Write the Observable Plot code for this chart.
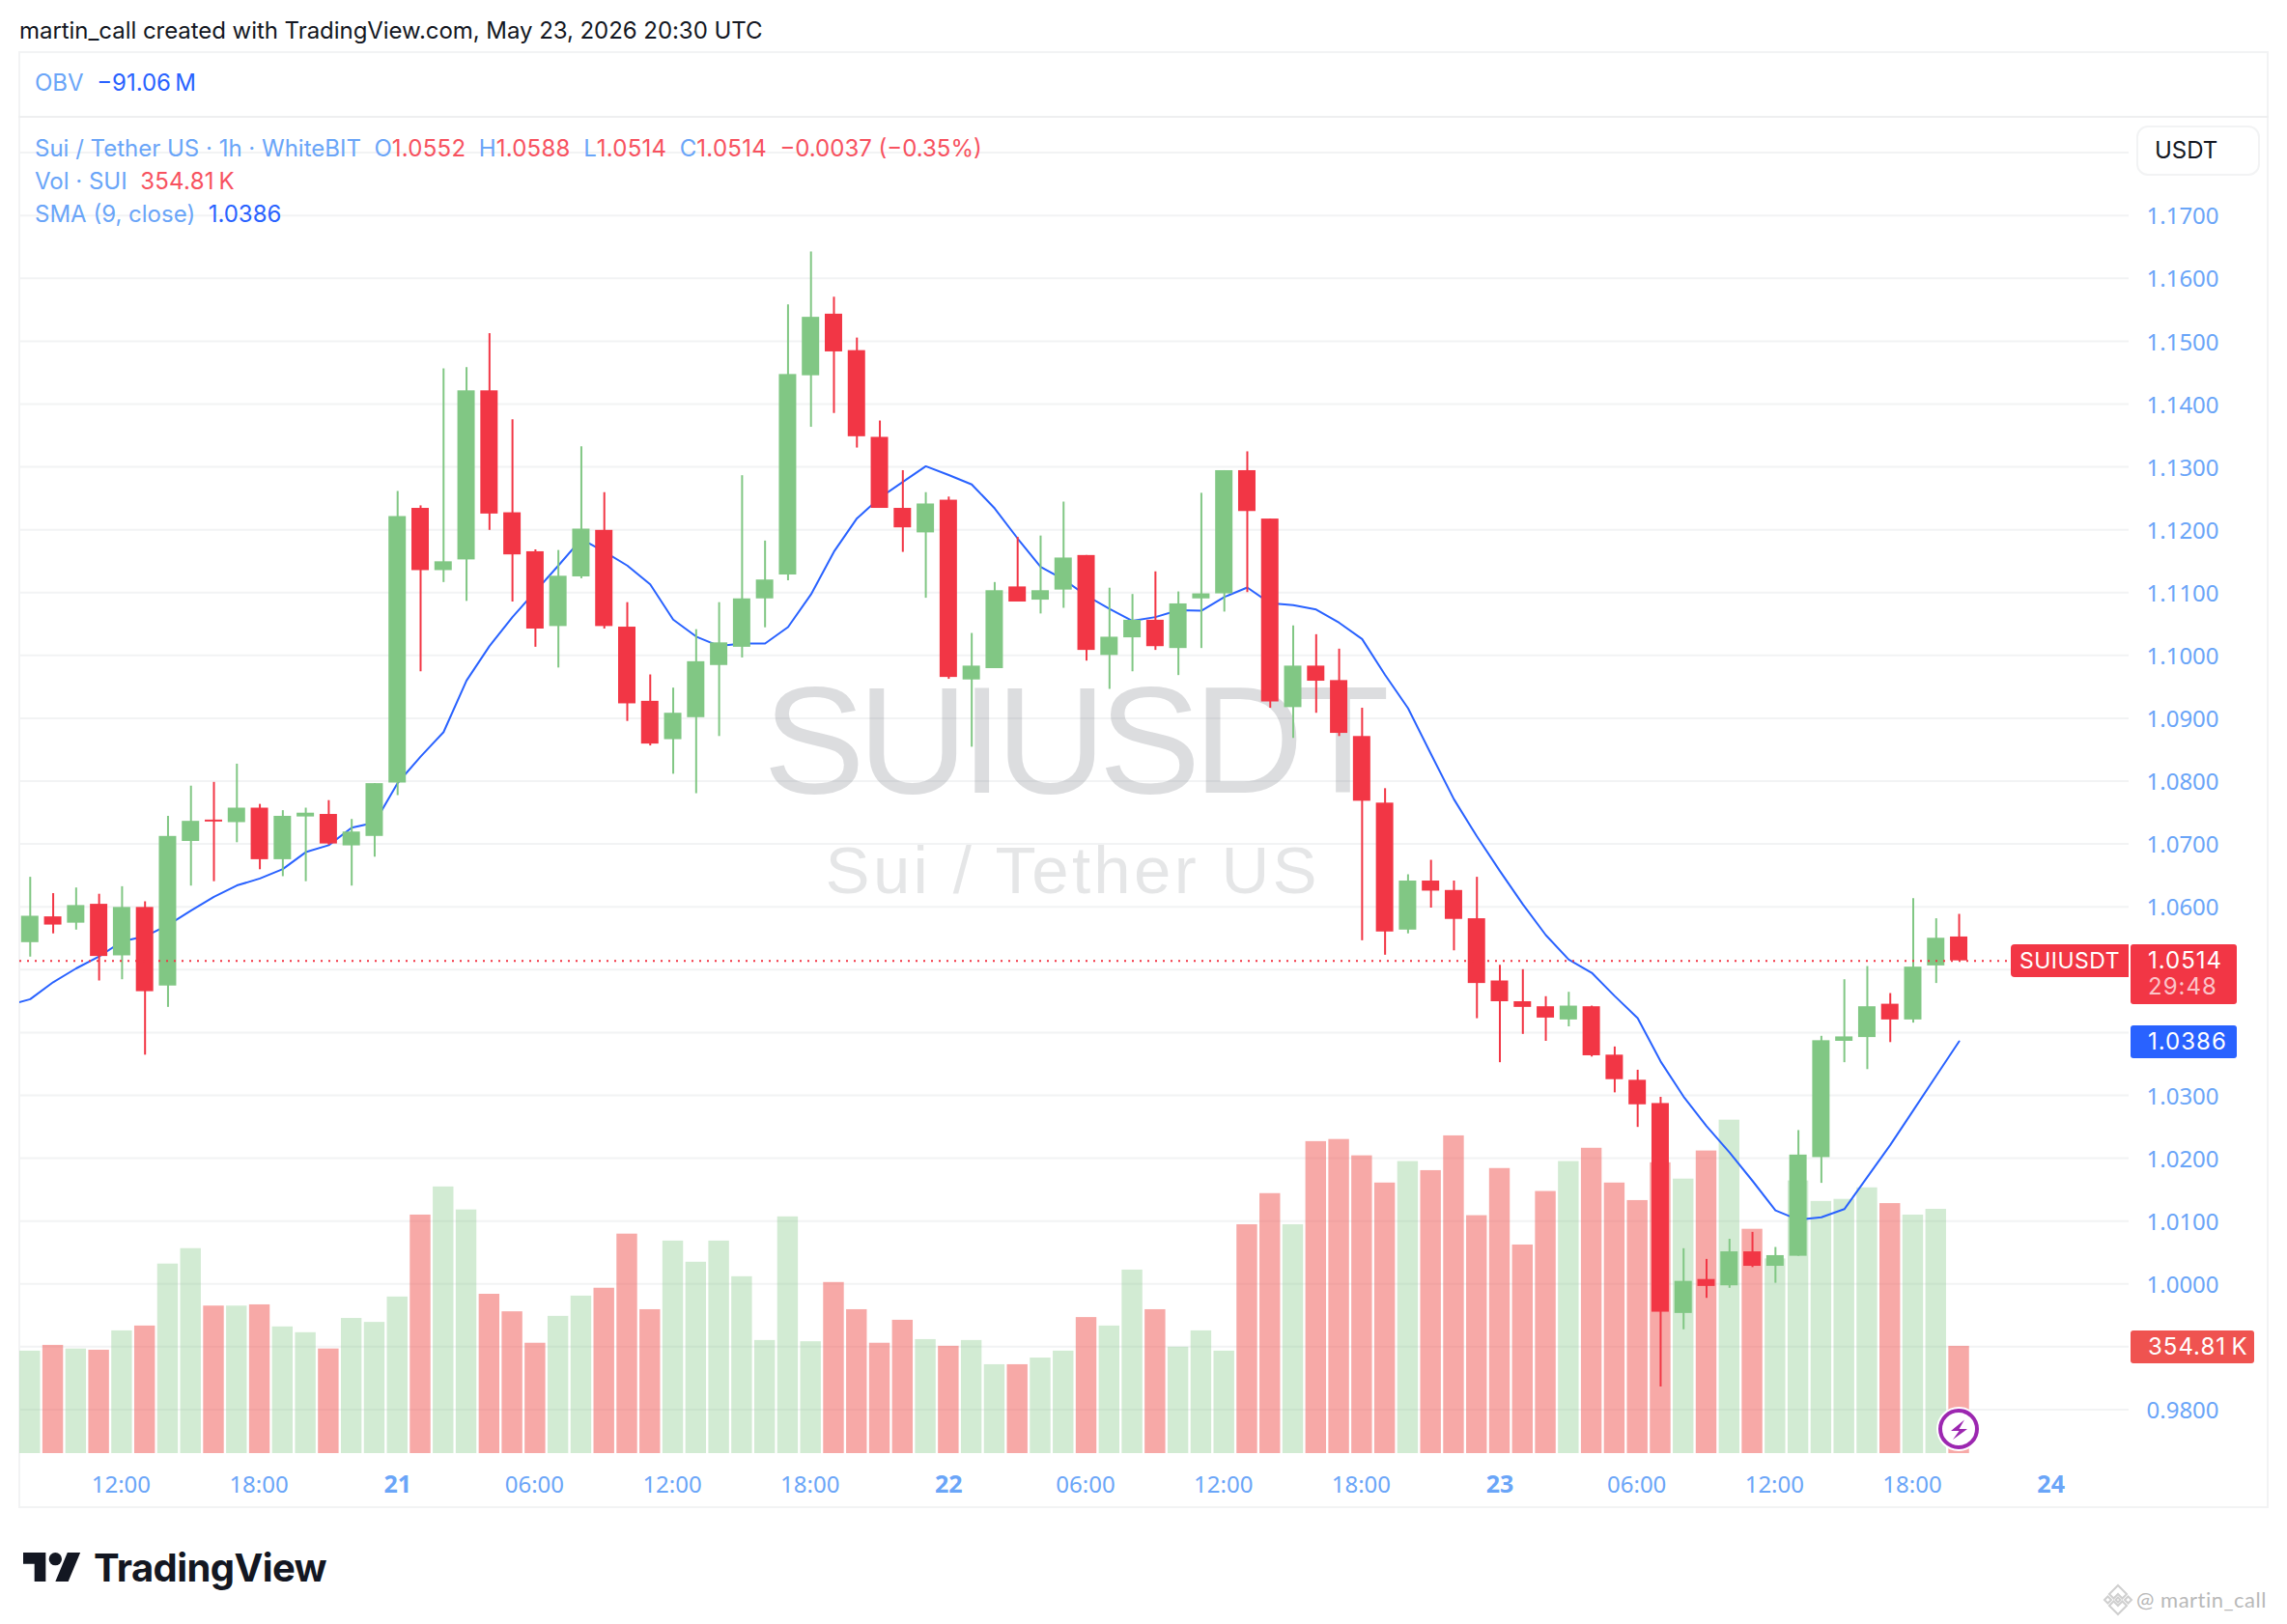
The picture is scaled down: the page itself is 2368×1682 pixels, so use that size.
<!DOCTYPE html>
<html>
<head>
<meta charset="utf-8">
<script src="https://cdn.jsdelivr.net/npm/d3@7"></script>
<script src="https://cdn.jsdelivr.net/npm/@observablehq/plot@0.6"></script>
<style>
  html,body{margin:0;padding:0;background:#fff;}
  #page{position:relative;width:2368px;height:1682px;overflow:hidden;font-family:Inter,"Noto Sans",sans-serif;background:#fff;}
  #page>*{position:absolute;}
  .t{white-space:pre;line-height:1;}
  .lab{color:#6aa5f8;} .red{color:#f7525f;letter-spacing:.25px;} .blue{color:#2962ff;}
  .badge{color:#fff;border-radius:3px;box-sizing:border-box;font-size:24px;letter-spacing:1px;line-height:1;white-space:pre;}
  svg{overflow:visible;}
</style>
</head>
<body>
<div id="page"></div>
<script>
const startHour = Date.UTC(2026, 4, 20, 8);

const opens = [1.0543,1.0584,1.0574,1.0604,1.0522,1.0599,1.0474,1.0704,1.0738,1.0734,1.0757,1.0675,1.0743,1.0747,1.0697,1.0712,1.0797,1.1234,1.1135,1.1152,1.1421,1.1227,1.1165,1.1046,1.1125,1.1199,1.1045,1.0927,1.0866,1.0901,1.0984,1.1013,1.1090,1.1128,1.1445,1.1543,1.1485,1.1347,1.1234,1.1195,1.1247,1.0961,1.0979,1.1109,1.1088,1.1104,1.1159,1.1000,1.1028,1.1056,1.1011,1.1090,1.1098,1.1294,1.1217,1.0917,1.0983,1.0960,1.0871,1.0765,1.0563,1.0641,1.0626,1.0581,1.0482,1.0449,1.0441,1.0420,1.0441,1.0364,1.0324,1.0287,0.9953,1.0007,0.9997,1.0051,1.0028,1.0044,1.0201,1.0386,1.0392,1.0445,1.0420,1.0506,1.0552];
const highs = [1.0647,1.0621,1.0630,1.0620,1.0632,1.0608,1.0744,1.0792,1.0798,1.0827,1.0763,1.0753,1.0757,1.0769,1.0739,1.0796,1.1261,1.1238,1.1456,1.1458,1.1512,1.1375,1.1168,1.1167,1.1332,1.1259,1.1084,1.0969,1.0948,1.1041,1.1084,1.1286,1.1182,1.1558,1.1642,1.1570,1.1505,1.1373,1.1294,1.1259,1.1252,1.1035,1.1116,1.1188,1.1190,1.1244,1.1159,1.1107,1.1097,1.1133,1.1101,1.1258,1.1294,1.1324,1.1217,1.1047,1.1033,1.1010,1.0916,1.0788,1.0651,1.0674,1.0641,1.0647,1.0507,1.0500,1.0457,1.0464,1.0442,1.0377,1.0340,1.0297,1.0056,1.0039,1.0071,1.0082,1.0058,1.0244,1.0394,1.0484,1.0505,1.0462,1.0613,1.0581,1.0588];
const lows = [1.0520,1.0557,1.0563,1.0482,1.0484,1.0364,1.0440,1.0633,1.0640,1.0702,1.0659,1.0648,1.0640,1.0698,1.0633,1.0679,1.0777,1.0974,1.1116,1.1086,1.1199,1.1085,1.1013,1.0980,1.1122,1.1042,1.0895,1.0856,1.0811,1.0780,1.0871,1.0996,1.1044,1.1119,1.1363,1.1385,1.1330,1.1234,1.1164,1.1091,1.0962,1.0854,1.0979,1.1085,1.1066,1.1075,1.0991,1.0946,1.0974,1.1008,1.0968,1.1011,1.1069,1.1100,1.0916,1.0868,1.0908,1.0871,1.0546,1.0523,1.0557,1.0598,1.0530,1.0422,1.0352,1.0397,1.0386,1.0409,1.0361,1.0304,1.0249,0.9836,0.9927,0.9977,0.9993,1.0026,1.0001,1.0044,1.0160,1.0352,1.0341,1.0384,1.0415,1.0478,1.0514];
const closes = [1.0585,1.0571,1.0602,1.0521,1.0599,1.0465,1.0712,1.0736,1.0735,1.0757,1.0675,1.0744,1.0749,1.0700,1.0719,1.0796,1.1221,1.1135,1.1149,1.1421,1.1225,1.1160,1.1042,1.1126,1.1201,1.1046,1.0923,1.0859,1.0908,1.0990,1.1020,1.1090,1.1120,1.1447,1.1538,1.1483,1.1348,1.1234,1.1203,1.1241,1.0965,1.0983,1.1103,1.1085,1.1103,1.1155,1.1008,1.1029,1.1056,1.1014,1.1082,1.1098,1.1294,1.1229,1.0926,1.0983,1.0959,1.0876,1.0768,1.0560,1.0641,1.0625,1.0580,1.0478,1.0449,1.0440,1.0423,1.0442,1.0363,1.0325,1.0285,0.9955,1.0004,0.9996,1.0051,1.0028,1.0045,1.0205,1.0387,1.0393,1.0441,1.0420,1.0504,1.0550,1.0514];
const volumesK = [339,358,346,342,406,422,627,678,488,488,492,419,400,346,447,434,518,789,882,806,527,469,365,454,521,547,726,476,703,633,703,585,374,783,370,566,476,365,441,377,355,374,294,294,316,339,450,422,607,476,352,406,339,757,860,757,1032,1039,985,895,966,936,1051,787,943,690,867,966,1010,895,837,962,908,1001,1103,742,644,902,834,841,879,827,789,808,354.81];
// SMA(9) read at each hour, the first reading belongs to the hour before the first candle
const smaValues = [1.0443,1.0453,1.0480,1.0502,1.0521,1.0545,1.0553,1.0571,1.0594,1.0616,1.0634,1.0645,1.0660,1.0687,1.0698,1.0726,1.0734,1.0797,1.0839,1.0878,1.0960,1.1015,1.1061,1.1102,1.1143,1.1185,1.1165,1.1143,1.1113,1.1057,1.1030,1.1015,1.1019,1.1019,1.1045,1.1097,1.1165,1.1218,1.1251,1.1276,1.1301,1.1287,1.1272,1.1234,1.1186,1.1141,1.1121,1.1095,1.1074,1.1055,1.1061,1.1072,1.1071,1.1093,1.1108,1.1083,1.1080,1.1073,1.1052,1.1026,1.0969,1.0916,1.0843,1.0771,1.0712,1.0657,1.0604,1.0555,1.0516,1.0495,1.0458,1.0423,1.0354,1.0298,1.0251,1.0209,1.0164,1.0117,1.0102,1.0106,1.0119,1.0170,1.0221,1.0276,1.0331,1.0386];
// labels under the badges (1.05, 1.04, 0.99) and under the currency box (1.18) are not visible in the chart
const priceTicks = [1.17,1.16,1.15,1.14,1.13,1.12,1.11,1.10,1.09,1.08,1.07,1.06,1.03,1.02,1.01,1.00,0.98];
const gridTicks = [1.18,1.17,1.16,1.15,1.14,1.13,1.12,1.11,1.10,1.09,1.08,1.07,1.06,1.05,1.04,1.03,1.02,1.01,1.00,0.99,0.98];
const hourTickOffsets = [4,10,22,28,34,46,52,58,70,76,82];
const dayTickOffsets = [16,40,64,88];

const lastClose = 1.0514, lastSma = 1.0386;
const volBase = 0.9730;             // price level of the volume pane's floor
const volScale = 0.0000481;         // price units per thousand SUI

const GREEN = "#81c784", RED = "#f23645", BLUE = "#2962ff", TICK = "#6aa5f8", GRID = "#f2f3f4";
const at = h => new Date(startHour + h * 3600000);
const rows = closes.map((c, i) => ({i, open: opens[i], high: highs[i], low: lows[i], close: c, vol: volumesK[i], up: c >= opens[i]}));
const smaRows = smaValues.map((v, k) => ({h: k - 1, v}));

const bodyHalf = 0.378, volHalf = 0.45;

const plot = Plot.plot({
  width: 2368, height: 1438,
  marginLeft: 20, marginRight: 164, marginTop: 0, marginBottom: 55,
  style: {fontFamily: "Inter, sans-serif", fontSize: "24px", letterSpacing: "1px", background: "transparent", overflow: "visible"},
  x: {type: "utc", domain: [at(-0.454), at(91.4)]},
  y: {domain: [volBase, 1.18547]},
  color: {type: "identity"},
  marks: [
    Plot.ruleY(gridTicks, {stroke: GRID, strokeWidth: 2}),
    Plot.text(["SUIUSDT"], {x: () => at(45.4), y: () => 1.0859, fontFamily: "Liberation Sans", fontSize: 158, fill: "#7d8088", fillOpacity: 0.27}),
    Plot.text(["Sui / Tether US"], {x: () => at(45.4), y: () => 1.0655, fontFamily: "Liberation Sans", fontSize: 69, fill: "#7d8088", fillOpacity: 0.2}),
    Plot.rect(rows, {x1: d => at(d.i - volHalf), x2: d => at(d.i + volHalf), y1: () => volBase, y2: d => volBase + d.vol * volScale,
      fill: d => d.up ? GREEN : "#ef5350", fillOpacity: d => d.up ? 0.36 : 0.5}),
    Plot.line(smaRows, {x: d => at(d.h), y: "v", stroke: BLUE, strokeWidth: 2, clip: true}),
    Plot.ruleX(rows, {x: d => at(d.i), y1: "low", y2: "high", stroke: d => d.up ? GREEN : RED, strokeWidth: 2}),
    Plot.rect(rows, {x1: d => at(d.i - bodyHalf), x2: d => at(d.i + bodyHalf), y1: "open", y2: "close", fill: d => d.up ? GREEN : RED}),
    Plot.ruleY([lastClose], {x1: () => at(-0.454), x2: () => at(86.27), stroke: RED, strokeWidth: 2, strokeDasharray: "2,6"}),
    Plot.axisY({anchor: "right", ticks: priceTicks, tickFormat: d3.format(".4f"), tickSize: 0, tickPadding: 18, dy: 1.5, color: TICK, label: null, fontSize: 24}),
    Plot.axisX({anchor: "bottom", ticks: hourTickOffsets.map(at), tickFormat: d3.utcFormat("%H:%M"), tickSize: 0, tickPadding: 23, dx: -1, color: TICK, label: null, fontSize: 24}),
    Plot.axisX({anchor: "bottom", ticks: dayTickOffsets.map(at), tickFormat: d3.utcFormat("%-d"), tickSize: 0, tickPadding: 23, color: TICK, label: null, fontSize: 25, fontWeight: 700})
  ]
});
// Plot.text has no letter-spacing channel: apply it to the two watermark strings
d3.select(plot).selectAll("text").each(function () {
  const s = this.textContent;
  if (s === "SUIUSDT") this.style.letterSpacing = "-7.5px";
  if (s === "Sui / Tether US") this.style.letterSpacing = "3.3px";
});

const page = document.getElementById("page");
const add = (html, style, cls) => { const d = document.createElement("div"); d.innerHTML = html; d.style.cssText = style; if (cls) d.className = cls; page.appendChild(d); return d; };

// panel frame
const FRAME = "#f2f3f4";
add("", `left:19px;top:53px;width:2330px;height:1509px;box-sizing:border-box;border:2px solid ${FRAME};`);
add("", `left:19px;top:120px;width:2330px;height:2px;background:#eeeff0;`);

plot.style.cssText = "position:absolute;left:0;top:122px;";
page.appendChild(plot);

const py = p => 122 + plot.scale("y").apply(p);
const px = h => plot.scale("x").apply(at(h));

// title and legend
add(`martin_call created with TradingView.com, May 23, 2026 20:30 UTC`, `left:20px;top:20px;font-size:24px;color:#131722;letter-spacing:-.05px;`, "t");
add(`<span class="lab">OBV</span>  <span class="blue">−91.06\u2009M</span>`, `left:36px;top:74px;font-size:24px;`, "t");
add(`<span class="lab">Sui / Tether US · 1h · WhiteBIT  O</span><span class="red">1.0552</span><span class="lab">  H</span><span class="red">1.0588</span><span class="lab">  L</span><span class="red">1.0514</span><span class="lab">  C</span><span class="red">1.0514</span><span class="red" style="letter-spacing:0">  −0.0037 (−0.35%)</span>`, `left:36px;top:142px;font-size:24px;`, "t");
add(`<span class="lab">Vol · SUI</span>  <span class="red">354.81\u2009K</span>`, `left:36px;top:176px;font-size:24px;`, "t");
add(`<span class="lab">SMA (9, close)</span>  <span class="blue">1.0386</span>`, `left:36px;top:210px;font-size:24px;`, "t");

// currency box
add(`USDT`, `left:2212px;top:130px;width:128px;height:52px;box-sizing:border-box;background:#fff;border:2px solid #f2f3f4;border-radius:12px;font-size:24px;color:#131722;line-height:48px;padding-left:17px;`);

// price badges
const yC = py(lastClose), yS = py(lastSma), yV = py(volBase + volumesK[84] * volScale);
add(`SUIUSDT`, `left:2082px;top:${yC-16.5}px;width:122px;height:34px;background:${RED};text-align:center;line-height:34px;border-radius:4px 0 0 4px;font-size:23px;letter-spacing:.5px;`, "badge");
add(`<div style="line-height:34px;height:30px">1.0514</div><div style="color:#fbc3c8;line-height:28px">29:48</div>`, `left:2206px;top:${yC-16.5}px;width:110px;height:62px;background:${RED};padding-left:18px;`, "badge");
add(`1.0386`, `left:2206px;top:${yS-16}px;width:110px;height:34px;background:${BLUE};padding-left:18px;line-height:34px;`, "badge");
add(`354.81\u2009K`, `left:2206px;top:${yV-16}px;width:128px;height:34px;background:#ef5350;padding-left:18px;line-height:34px;`, "badge");

// lightning marker
add(`<svg width="46" height="46" viewBox="-23 -23 46 46"><circle r="23" fill="#fff"/><circle r="19" fill="#fff" stroke="#9c27b0" stroke-width="4"/><path d="M6 -9.5 L-8 2 L0.5 2 L-6 11 L9 0 L0.5 0 Z" fill="#9c27b0"/></svg>`, `left:${px(84)-23}px;top:1457px;line-height:0;`);

// logo
add(`<svg width="60" height="30" viewBox="0 4 36 18"><path fill="#131722" d="M14 22H7V11H0V4h14v18zM28 22h-8l7.5-18h8L28 22z"/><circle cx="20" cy="8" r="4" fill="#131722"/></svg>`, `left:24px;top:1608px;line-height:0;`);
add(`TradingView`, `left:97px;top:1604px;font-size:40px;font-weight:700;letter-spacing:-.6px;color:#131722;`, "t");

// corner watermark
add(`<svg width="30" height="32" viewBox="-15 -16 30 32"><g fill="none" stroke="#cfcfcf" stroke-width="2"><path d="M0 -15 L9 -6 L4.5 -1.5 L0 -6 L-4.5 -1.5 L-9 -6 Z"/><path d="M0 15 L9 6 L4.5 1.5 L0 6 L-4.5 1.5 L-9 6 Z"/><path d="M-14 0 L-10.5 -3.5 L-7 0 L-10.5 3.5 Z"/><path d="M14 0 L10.5 -3.5 L7 0 L10.5 3.5 Z"/><path d="M0 -2.5 L2.5 0 L0 2.5 L-2.5 0 Z"/></g></svg>`, `left:2178px;top:1641px;line-height:0;`);
add(`@ martin_call`, `left:2212px;top:1646px;font-size:22px;font-family:Lato,Inter,sans-serif;color:#b9b9b9;letter-spacing:.5px;`, "t");
</script>
</body>
</html>
